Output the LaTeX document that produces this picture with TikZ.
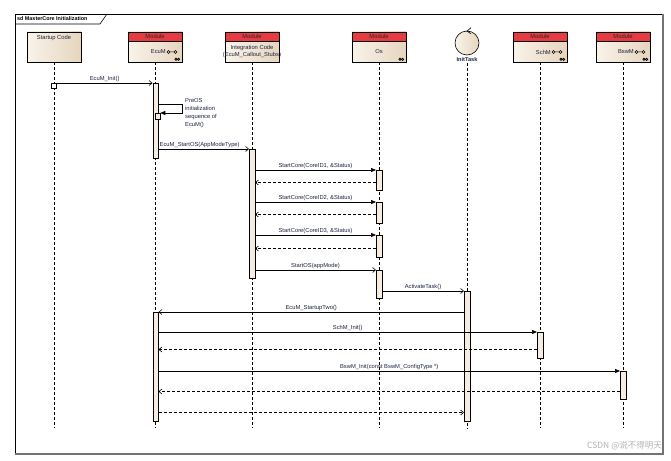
\documentclass[tikz,border=0pt]{standalone}
\usepackage{fontspec}
\setmainfont{Liberation Sans}
\newfontfamily\cjkfont{Noto Sans CJK SC}
\usetikzlibrary{positioning,arrows.meta,calc,shadows}
\definecolor{cHead}{HTML}{E63B40}
\definecolor{cBoxL}{HTML}{F9F3EA}
\definecolor{cBoxR}{HTML}{E6D5BE}
\definecolor{cAct}{HTML}{F6ECDF}
\definecolor{cInk}{HTML}{1B2340}

\begin{document}
\begin{tikzpicture}[
  x=1pt, y=-1pt,
  font=\fontsize{5.8}{7}\selectfont,
  lbox/.style={draw=black, line width=0.6pt, left color=cBoxL, right color=cBoxR,
               minimum width=54pt, minimum height=30pt, inner sep=0pt,
               drop shadow={shadow xshift=0.8pt, shadow yshift=-0.8pt, fill=black!60, opacity=0.8}},
  hdr/.style={draw=black, line width=0.6pt, fill=cHead, anchor=north,
              minimum width=54pt, minimum height=9pt, inner sep=0pt, text=black!85},
  act/.style={draw=black, line width=0.5pt, fill=cAct, anchor=north,
              minimum width=5.5pt, inner sep=0pt,
              drop shadow={shadow xshift=0.7pt, shadow yshift=-0.5pt, fill=black!40, opacity=0.8}},
  lifeline/.style={line width=0.6pt, dash pattern=on 3pt off 2pt},
  call/.style={line width=0.6pt, -{Triangle[length=5pt,width=4pt]}},
  async/.style={line width=0.6pt, -{Straight Barb[length=3pt,width=5pt]}},
  ret/.style={line width=0.6pt, dash pattern=on 3pt off 2pt, -{Straight Barb[length=3pt,width=5pt]}},
  msg/.style={above, inner sep=1pt, text=cInk},
  linkicon/.pic={\draw[line width=0.5pt] (-3.5,0) circle (1.5pt) (-2,0) -- (2,0) (3.5,0) circle (1.5pt);},
  compicon/.pic={\draw[line width=0.7pt] (-1.3,0) circle (1.1pt) (1.3,0) circle (1.1pt);}]

\useasboundingbox (0,0) rectangle (671,460);

% ---------- frame ----------
\draw[line width=0.6pt] (15,454) -- (15,14) -- (663,14);
\draw[line width=1.3pt, black!55] (15,454) -- (663,454) -- (663,14);
\draw[line width=0.6pt] (15,24) -- (100,24) -- (107,14);
\node[anchor=west, font=\fontsize{5.4}{6}\selectfont\bfseries, inner sep=1pt] (title) at (16,19) {sd MasterCore Initialization};

% ---------- lifeline heads ----------
\node[lbox] (startup) at (54,47) {};
\node[below=2pt of startup.north, inner sep=1pt, text=cInk] {Startup Code};

\node[lbox] (ecum) at (155,47) {};
\node[hdr] (ecumH) at (ecum.north) {Module};
\node[anchor=east, inner sep=0pt, text=cInk] (ecumN) at ($(ecum.center)+(11,5)$) {EcuM};
\pic at ($(ecum.center)+(17,5)$) {linkicon};
\pic at ($(ecum.south east)+(-5,-3)$) {compicon};

\node[lbox] (integ) at (252,47) {};
\node[hdr] (integH) at (integ.north) {Module};
\node[align=center, inner sep=0pt, text=cInk] (integN) at ($(integ.center)+(0,4.5)$) {Integration Code\\(EcuM\_Callout\_Stubs)};

\node[lbox] (os) at (379,47) {};
\node[hdr] (osH) at (os.north) {Module};
\node[inner sep=0pt, text=cInk] (osN) at ($(os.center)+(0,5)$) {Os};
\pic at ($(os.south east)+(-5,-3)$) {compicon};

\node[circle, draw=black, line width=0.6pt, left color=cBoxL, right color=cBoxR,
      minimum size=24pt, inner sep=0pt] (inittask) at (467,43) {};
\draw[line width=0.6pt] ($(inittask.north)+(4,-3)$) -- ($(inittask.north)+(0,0.5)$) -- ($(inittask.north)+(4,3)$);
\node[below=1pt of inittask, font=\fontsize{5.6}{6}\selectfont\bfseries, inner sep=1pt, text=cInk] (itlbl) {InitTask};

\node[lbox] (schm) at (540,47) {};
\node[hdr] (schmH) at (schm.north) {Module};
\node[anchor=east, inner sep=0pt, text=cInk] (schmN) at ($(schm.center)+(11,5)$) {SchM};
\pic at ($(schm.center)+(17,5)$) {linkicon};
\pic at ($(schm.south east)+(-5,-3)$) {compicon};

\node[lbox] (bswm) at (623,47) {};
\node[hdr] (bswmH) at (bswm.north) {Module};
\node[anchor=east, inner sep=0pt, text=cInk] (bswmN) at ($(bswm.center)+(11,5)$) {BswM};
\pic at ($(bswm.center)+(17,5)$) {linkicon};
\pic at ($(bswm.south east)+(-5,-3)$) {compicon};

% ---------- lifelines ----------
\coordinate (bot) at (0,428);
\draw[lifeline] (startup.south) -- (startup.south |- bot);
\draw[lifeline] (ecum.south) -- (ecum.south |- bot);
\draw[lifeline] (integ.south) -- (integ.south |- bot);
\draw[lifeline] (os.south) -- (os.south |- bot);
\draw[lifeline] (itlbl.south) -- (itlbl.south |- bot);
\draw[lifeline] (schm.south) -- (schm.south |- bot);
\draw[lifeline] (bswm.south) -- (bswm.south |- bot);

% ---------- activations ----------
\node[draw=black, line width=0.5pt, fill=white, minimum size=5pt, inner sep=0pt, anchor=north] (found) at (54,83) {};
\node[act, minimum height=75pt] (actE1) at (155.5,83) {};
\node[act, minimum height=6pt, minimum width=5pt] (actE1b) at (157.5,113) {};
\node[act, minimum height=129pt] (actI) at (252,149) {};
\node[act, minimum height=20pt] (actO1) at (379,170) {};
\node[act, minimum height=21pt] (actO2) at (379,202) {};
\node[act, minimum height=22pt] (actO3) at (379,235) {};
\node[act, minimum height=28pt] (actO4) at (379,270) {};
\node[act, minimum height=130pt] (actT) at (467,291) {};
\node[act, minimum height=109pt] (actE2) at (155.5,312) {};
\node[act, minimum height=26pt] (actS) at (540,332) {};
\node[act, minimum height=28pt] (actB) at (623,371) {};

% ---------- messages ----------
\draw[async] (found.north east) -- node[msg]{EcuM\_Init()} (actE1.north west);
% self call into the nested activation
\draw[call] (actE1.east |- actE1b.north) ++(0,-9) -- ++(24,0) |- (actE1b.north east);
\node[anchor=north west, align=left, inner sep=0pt, text=cInk, font=\fontsize{5.8}{8}\selectfont] (preos) at (185,98) {PreOS\\initialization\\sequence of\\EcuM()};
\draw[async] (actE1.east |- actI.north) -- (actI.north west);
\node[anchor=south west, inner sep=1pt, text=cInk] (startos) at (actE1.east |- actI.north) {EcuM\_StartOS(AppModeType)};

\draw[call] (actI.east |- actO1.north) -- node[msg]{StartCore(CoreID1, \&Status)} (actO1.north west);
\coordinate (r1) at ([yshift=8pt]actO1.south west);
\draw[ret] (r1) -- (r1 -| actI.east);
\draw[call] (actI.east |- actO2.north) -- node[msg]{StartCore(CoreID2, \&Status)} (actO2.north west);
\coordinate (r2) at ([yshift=9pt]actO2.south west);
\draw[ret] (r2) -- (r2 -| actI.east);
\draw[call] (actI.east |- actO3.north) -- node[msg]{StartCore(CoreID3, \&Status)} (actO3.north west);
\coordinate (r3) at ([yshift=9pt]actO3.south west);
\draw[ret] (r3) -- (r3 -| actI.east);
\draw[async] (actI.east |- actO4.north) -- node[msg]{StartOS(appMode)} (actO4.north west);

\draw[async] (actO4.east |- actT.north) -- node[msg]{ActivateTask()} (actT.north west);
\draw[async] (actT.west |- actE2.north) -- node[msg]{EcuM\_StartupTwo()} (actE2.north east);

\draw[call] (actE2.east |- actS.north) -- node[msg]{SchM\_Init()} (actS.north west);
\coordinate (r4) at ([yshift=9pt]actS.south west);
\draw[ret] (r4) -- (r4 -| actE2.east);
\draw[call] (actE2.east |- actB.north) -- node[msg]{BswM\_Init(const BswM\_ConfigType *)} (actB.north west);
\coordinate (r5) at ([yshift=8pt]actB.south west);
\draw[ret] (r5) -- (r5 -| actE2.east);
\coordinate (r6) at ([yshift=9pt]actE2.south east);
\draw[ret] (r6) -- (r6 -| actT.west);

% ---------- watermark ----------
\node[anchor=east, inner sep=0pt, text=black!30, font=\cjkfont\fontsize{8.5}{9}\selectfont] (wm) at (662,446) {CSDN @说不得明天};
\end{tikzpicture}
\end{document}
